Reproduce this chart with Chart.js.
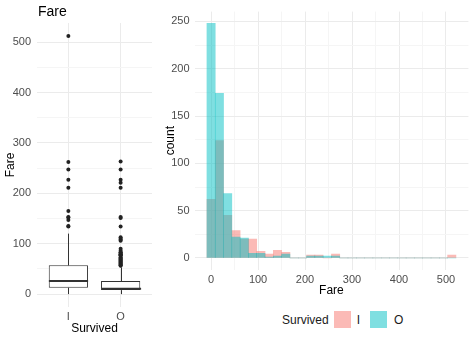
<!DOCTYPE html>
<html>
<head>
<meta charset="utf-8">
<script src="https://cdn.jsdelivr.net/npm/chart.js@4"></script>
<style>
  body { margin: 0; background: #fff; font-family: "Liberation Sans", Arial, sans-serif; }
  #wrap { position: relative; width: 474px; height: 338px; overflow: hidden; }
  #boxCanvasBox { position: absolute; left: 0; top: 0; width: 160px; height: 338px; }
  #histCanvasBox { position: absolute; left: 160px; top: 0; width: 314px; height: 300px; }
  #boxTitle { position: absolute; left: 38px; top: 3px; font-size: 14px; color: #000; }
  #legend { position: absolute; left: 282px; top: 311px; height: 17px; display: flex; align-items: center; font-size: 12px; color: #1a1a1a; }
  .key { width: 17px; height: 17px; display: inline-block; }
</style>
</head>
<body>
<div id="wrap">
  <div id="boxCanvasBox"><canvas id="boxChart"></canvas></div>
  <div id="histCanvasBox"><canvas id="histChart"></canvas></div>
  <div id="boxTitle">Fare</div>
  <div id="legend">
    <span style="margin-right:5px">Survived</span>
    <span class="key" style="background:rgba(248,118,109,0.5)"></span>
    <span style="margin:0 10px 0 6px">I</span>
    <span class="key" style="background:rgba(0,191,196,0.5)"></span>
    <span style="margin-left:7px">O</span>
  </div>
</div>
<script>
// Boxplot: Fare nach Survived
const boxGroups = ['I', 'O'];
const boxQ1 = [12.5, 7.9];
const boxMedian = [26, 10.5];
const boxQ3 = [57, 26];
const whiskerLow = [0, 0];
const whiskerHigh = [120, 53];
const outliersI = [134, 135, 147, 152, 153, 165, 211, 227, 247, 262, 512];
const outliersO = [56, 57, 59, 61, 63, 65, 67, 69, 71, 73, 76, 77, 78, 79, 80, 82, 83, 86, 90,
  106, 108, 110, 113, 134, 151, 153, 211, 221, 227, 247, 263];
const boxYTicks = [0, 100, 200, 300, 400, 500];

// Histogramm: 30 Klassen
const binCenters = [0, 17.7, 35.3, 53, 70.7, 88.3, 106, 123.6, 141.3, 159, 176.7, 194.3, 212, 229.6,
  247.3, 265, 282.6, 300.3, 318, 335.6, 353.3, 371, 388.6, 406.3, 424, 441.6, 459.3, 477, 494.6, 512.3];
const countI = [62, 124, 45, 29, 20, 20, 7, 4, 8, 6, 0, 0, 3, 3, 0, 4, 0, 0, 0, 0, 0, 0, 0, 0, 0, 0, 0, 0, 0, 3];
const countO = [248, 174, 68, 22, 21, 5, 5, 1, 2, 4, 0, 0, 2, 2, 2, 2, 0, 0, 0, 0, 0, 0, 0, 0, 0, 0, 0, 0, 0, 0];
const histXTicks = [0, 100, 200, 300, 400, 500];
const histYTicks = [0, 50, 100, 150, 200, 250];

const FONT = '"Liberation Sans", Arial, sans-serif';
const MAJOR = '#ebebeb';
const MINOR = '#f5f5f5';

function gridColor(majors) {
  return ctx => (ctx.tick && majors.includes(ctx.tick.value)) ? MAJOR : MINOR;
}

// Whisker und Median zeichnen
const boxPlugin = {
  id: 'boxExtras',
  afterDatasetsDraw(chart) {
    const {ctx, scales: {x, y}} = chart;
    const half = (x.getPixelForValue(1.375) - x.getPixelForValue(1));
    ctx.save();
    ctx.strokeStyle = '#333';
    boxGroups.forEach((g, i) => {
      const cx = Math.round(x.getPixelForValue(i + 1)) + 0.5;
      ctx.lineWidth = 1;
      ctx.beginPath();
      ctx.moveTo(cx, y.getPixelForValue(boxQ3[i]));
      ctx.lineTo(cx, y.getPixelForValue(whiskerHigh[i]));
      ctx.moveTo(cx, y.getPixelForValue(boxQ1[i]));
      ctx.lineTo(cx, y.getPixelForValue(whiskerLow[i]));
      ctx.stroke();
      ctx.lineWidth = 2;
      ctx.beginPath();
      ctx.moveTo(cx - half, y.getPixelForValue(boxMedian[i]));
      ctx.lineTo(cx + half, y.getPixelForValue(boxMedian[i]));
      ctx.stroke();
    });
    ctx.restore();
  }
};

new Chart(document.getElementById('boxChart'), {
  type: 'bar',
  data: {
    datasets: [
      {
        type: 'scatter',
        data: outliersI.map(v => ({x: 1, y: v})).concat(outliersO.map(v => ({x: 2, y: v}))),
        backgroundColor: '#222',
        borderWidth: 0,
        pointRadius: 2,
        order: 0
      },
      {
        data: boxGroups.map((g, i) => ({x: i + 1, y: [boxQ1[i], boxQ3[i]]})),
        backgroundColor: '#fff',
        borderColor: '#333',
        borderWidth: 1,
        borderSkipped: false,
        barPercentage: 0.75,
        categoryPercentage: 1,
        order: 1
      }
    ]
  },
  options: {
    responsive: true,
    maintainAspectRatio: false,
    animation: false,
    layout: {padding: {top: 23, right: 8, left: 0, bottom: 0}},
    plugins: {legend: {display: false}, tooltip: {enabled: false}},
    scales: {
      x: {
        type: 'linear',
        min: 0.4,
        max: 2.6,
        offset: false,
        afterBuildTicks: s => { s.ticks = [{value: 1}, {value: 2}]; },
        afterFit: s => { s.height = 31; },
        ticks: {
          callback: v => boxGroups[v - 1],
          color: '#4d4d4d',
          font: {family: FONT, size: 11},
          padding: 3
        },
        grid: {color: MAJOR, drawTicks: false, offset: false},
        border: {display: false},
        title: {display: true, text: 'Survived', color: '#000', font: {family: FONT, size: 12}, padding: {top: 0, bottom: 2}}
      },
      y: {
        min: -25.6,
        max: 537.9,
        afterBuildTicks: s => { s.ticks = [0, 50, 100, 150, 200, 250, 300, 350, 400, 450, 500].map(v => ({value: v})); },
        afterFit: s => { s.width = 37; },
        ticks: {
          callback: v => boxYTicks.includes(v) ? v : '',
          color: '#4d4d4d',
          font: {family: FONT, size: 11},
          padding: 6
        },
        grid: {color: gridColor(boxYTicks), drawTicks: false},
        border: {display: false},
        title: {display: true, text: 'Fare', color: '#000', font: {family: FONT, size: 12}, padding: {top: 3, bottom: 0}}
      }
    }
  },
  plugins: [boxPlugin]
});

new Chart(document.getElementById('histChart'), {
  type: 'bar',
  data: {
    datasets: [
      {
        label: 'I',
        data: binCenters.map((c, i) => ({x: c, y: countI[i]})),
        backgroundColor: 'rgba(248,118,109,0.5)',
        grouped: false,
        barPercentage: 1,
        categoryPercentage: 1,
        order: 2
      },
      {
        label: 'O',
        data: binCenters.map((c, i) => ({x: c, y: countO[i]})),
        backgroundColor: 'rgba(0,191,196,0.5)',
        grouped: false,
        barPercentage: 1,
        categoryPercentage: 1,
        order: 1
      }
    ]
  },
  options: {
    responsive: true,
    maintainAspectRatio: false,
    animation: false,
    layout: {padding: {top: 5.6, right: 5.6, left: 0, bottom: 0}},
    plugins: {legend: {display: false}, tooltip: {enabled: false}},
    scales: {
      x: {
        type: 'linear',
        min: -35.3,
        max: 547.7,
        offset: false,
        afterBuildTicks: s => { s.ticks = [0, 50, 100, 150, 200, 250, 300, 350, 400, 450, 500].map(v => ({value: v})); },
        afterFit: s => { s.height = 30.3; },
        ticks: {
          callback: v => histXTicks.includes(v) ? v : '',
          color: '#4d4d4d',
          font: {family: FONT, size: 11},
          maxRotation: 0,
          autoSkip: false,
          padding: 4
        },
        grid: {color: gridColor(histXTicks), drawTicks: false, offset: false},
        border: {display: false},
        title: {display: true, text: 'Fare', color: '#000', font: {family: FONT, size: 12}, padding: {top: 0, bottom: 2}}
      },
      y: {
        min: -12.4,
        max: 260.4,
        afterBuildTicks: s => { s.ticks = [0, 25, 50, 75, 100, 125, 150, 175, 200, 225, 250].map(v => ({value: v})); },
        afterFit: s => { s.width = 34.5; },
        ticks: {
          callback: v => histYTicks.includes(v) ? v : '',
          color: '#4d4d4d',
          font: {family: FONT, size: 11},
          padding: 5
        },
        grid: {color: gridColor(histYTicks), drawTicks: false},
        border: {display: false},
        title: {display: true, text: 'count', color: '#000', font: {family: FONT, size: 12}, padding: {top: 3, bottom: 0}}
      }
    }
  }
});
</script>
</body>
</html>
